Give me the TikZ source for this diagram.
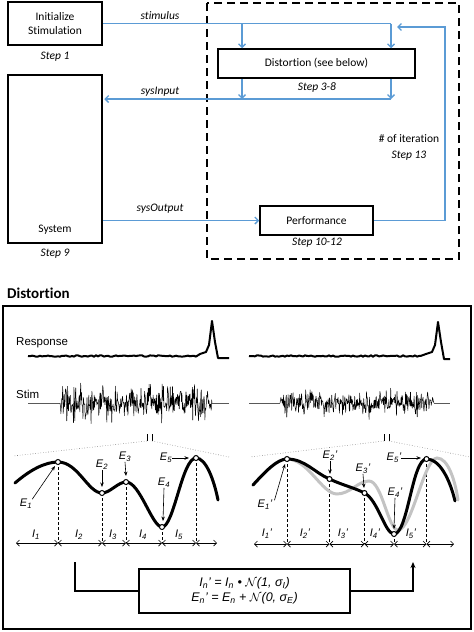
\documentclass[tikz,border=0pt]{standalone}
\usepackage{fontspec}
\setmainfont{Liberation Sans}
\newfontfamily\calfnt[Ligatures={NoCommon}]{Carlito}
\usetikzlibrary{arrows.meta}
\definecolor{obl}{RGB}{91,155,213}
\definecolor{gcurve}{RGB}{195,195,195}
\begin{document}
\begin{tikzpicture}[x=1pt,y=-1pt,
  box/.style={draw,line width=1.5pt,inner sep=0pt,align=center,font=\calfnt\fontsize{11.5}{13.5}\selectfont},
  ctext/.style={font=\calfnt\fontsize{11.5}{13.5}\selectfont, align=center, inner sep=0pt},
  stepl/.style={font=\calfnt\itshape\fontsize{11.5}{13.5}\selectfont, inner sep=0pt},
  bl/.style={draw=obl,line width=1.3pt},
  bla/.style={bl,-{Straight Barb[length=3.5pt,width=7pt]}},
  lab/.style={font=\fontsize{11}{13}\selectfont\itshape, inner sep=0pt},
  txt/.style={font=\fontsize{11.5}{13}\selectfont, inner sep=0pt},
  dbl/.style={line width=0.7pt,{Straight Barb[length=3pt,width=6pt]}-{Straight Barb[length=3pt,width=6pt]}},
  earr/.style={line width=0.6pt,-{Stealth[length=4.5pt,width=3.5pt]}},
  pt/.style={circle,draw,fill=white,inner sep=0pt,minimum size=5pt,line width=1pt},
  vdash/.style={line width=0.8pt,dash pattern=on 3pt off 2pt},
  zoomline/.style={line width=0.6pt,dotted,gray}
]
\useasboundingbox (0,0) rectangle (474,632);

% ---------------- top flow ----------------
\draw[line width=2.2pt, dash pattern=on 8pt off 5pt] (207,3) rectangle (459,259);

\node[box,minimum width=94pt,minimum height=43pt] (init) at (55,23.5) {Initialize\\Stimulation};
\node[stepl] (s1) at (55,57) {Step 1};
\node[box,minimum width=94pt,minimum height=168pt] (sys) at (55,159) {};
\node[ctext] (systxt) at (55,230) {System};
\node[stepl] (s9) at (55,254) {Step 9};

\node[box,minimum width=197pt,minimum height=29pt] (dist) at (316.5,63.5) {Distortion (see below)};
\node[stepl] (s38) at (317,87) {Step 3-8};
\node[box,minimum width=113pt,minimum height=29pt] (perf) at (316.5,220.5) {Performance};
\node[stepl] (s1012) at (317,243) {Step 10-12};
\node[ctext] (iter) at (409,139) {\# of iteration};
\node[stepl] (s13) at (409,156) {Step 13};

\node[stepl] (lstim) at (160,16) {stimulus};
\node[stepl] (lsysin) at (160,92) {sysInput};
\node[stepl] (lsysout) at (160,209) {sysOutput};

\coordinate (ta) at (242,23.5);
\coordinate (tb) at (391,23.5);
\coordinate (ba) at (242,99);
\coordinate (bb) at (391,99);
\coordinate (ic) at (445,27);
\coordinate (ie) at (397,27);

\draw[bl] (init.east) -- (tb);
\draw[bla] (ta) -- (ta |- dist.north);
\draw[bla] (tb) -- (tb |- dist.north);
\draw[bla] (ta |- dist.south) -- (ba);
\draw[bla] (tb |- dist.south) -- (bb);
\draw[bla,shorten >=1.5pt] (bb) -- (ba) -- (sys.east |- ba);
\draw[bla] (sys.east |- perf) -- (perf.west);
\draw[bla] (perf.east) -| (ic) -- (ie);

% ---------------- distortion panel ----------------
\node[font=\calfnt\bfseries\fontsize{15}{18}\selectfont,anchor=west,inner sep=0pt] (dtitle) at (7,293) {Distortion};
\draw[line width=2.5pt] (3,306) rectangle (471,629);

\node[txt,anchor=west] (resp) at (16,343) {Response};
\node[txt,anchor=west] (stim) at (16,394) {Stim};

% response traces
\pgfmathsetseed{7}
\draw[line width=2pt,line join=round] (28,356) \foreach \k in {1,...,84} { -- ({28+2*\k},{356+0.7*rand}) }
  -- (200,354) -- (206,352) -- (209,345) -- (212,321) -- (215,342) -- (218,358) -- (229,358);
\draw[line width=2pt,line join=round] (249,356) \foreach \k in {1,...,86} { -- ({249+2*\k},{356+0.7*rand}) }
  -- (426,354) -- (432,352) -- (435,345) -- (438,322) -- (441,342) -- (444,359) -- (450,359);

% stim traces
\draw[line width=0.7pt,gray!70!black] (28,403) -- (60,403);
\draw[line width=0.7pt,gray!70!black] (212,403) -- (229,403);
\draw[line width=0.5pt,line join=round] (60,403) \foreach \k in {1,...,337} { -- ({60+0.45*\k},{403+9*(rand+rand+rand)+8*rand*rand*rand}) } -- (212,403);
\draw[line width=0.7pt,gray!70!black] (249,403) -- (280,403);
\draw[line width=0.7pt,gray!70!black] (434,403) -- (450,403);
\draw[line width=0.5pt,line join=round] (280,403) \foreach \k in {1,...,341} { -- ({280+0.45*\k},{403+5.5*(rand+rand+rand)+6*rand*rand*rand}) } -- (434,403);

% zoom indicators
\draw[line width=0.6pt] (147,434) -- (147,441);
\draw[line width=0.6pt] (152,434) -- (152,441);
\draw[zoomline] (147,441) -- (13,456);
\draw[zoomline] (152,441) -- (229,457);
\draw[line width=0.6pt] (384,434) -- (384,441);
\draw[line width=0.6pt] (389,434) -- (389,441);
\draw[zoomline] (384,441) -- (250,457);
\draw[zoomline] (389,441) -- (470,457);

% left curve
\coordinate (rowL) at (0,543);
\coordinate (rowR) at (0,544);
\coordinate (p1) at (58,462);
\coordinate (p2) at (102,493);
\coordinate (p3) at (126,482);
\coordinate (p4) at (162,527);
\coordinate (p5) at (196,458);
\foreach \p in {p1,p2,p3,p4,p5} { \draw[vdash] (\p) -- (\p |- rowL); }
\draw[line width=3pt,line cap=round]
  (15,483) .. controls (30,470) and (45,462) .. (p1)
  .. controls (78,462) and (88,493) .. (p2)
  .. controls (110,493) and (118,482) .. (p3)
  .. controls (140,482) and (152,527) .. (p4)
  .. controls (174,527) and (182,458) .. (p5)
  .. controls (206,458) and (214,480) .. (218,500);
\foreach \p in {p1,p2,p3,p4,p5} { \node[pt] at (\p) {}; }

\coordinate (l0) at (16,543);
\coordinate (l6) at (217,543);
\draw[dbl] (l0) -- (p1 |- rowL);
\draw[dbl] (p1 |- rowL) -- (p2 |- rowL);
\draw[dbl] (p2 |- rowL) -- (p3 |- rowL);
\draw[dbl] (p3 |- rowL) -- (p4 |- rowL);
\draw[dbl] (p4 |- rowL) -- (p5 |- rowL);
\draw[dbl] (p5 |- rowL) -- (l6);

\node[lab] (i1) at (36,535) {I\textsubscript{1}};
\node[lab] (i2) at (79,535) {I\textsubscript{2}};
\node[lab] (i3) at (113,535) {I\textsubscript{3}};
\node[lab] (i4) at (143,535) {I\textsubscript{4}};
\node[lab] (i5) at (179,535) {I\textsubscript{5}};

\node[lab] (e1) at (26,504) {E\textsubscript{1}};
\node[lab] (e2) at (102,465) {E\textsubscript{2}};
\node[lab] (e3) at (125,457) {E\textsubscript{3}};
\node[lab] (e4) at (164,483) {E\textsubscript{4}};
\node[lab] (e5) at (166,458) {E\textsubscript{5}};
\draw[earr] (e1.north east) -- (55,466);
\draw[earr] (e2.south) -- (102,487);
\draw[earr] (e3.south) -- (126,476);
\draw[earr] (e4.south) -- (163,521);
\draw[earr] (e5.east) -- (189,458);

% right curve
\coordinate (q1) at (287,459);
\coordinate (q2) at (329.5,479);
\coordinate (q3) at (364.5,493);
\coordinate (q4) at (394,534);
\coordinate (q5) at (426.5,459);
\foreach \p in {q1,q2,q3,q4,q5} { \draw[vdash,line width=1pt] (\p) -- (\p |- rowR); }
\draw[line width=3pt,gcurve,line cap=round]
  (253,485) .. controls (265,472) and (277,459) .. (287,459)
  .. controls (308,459) and (322,494) .. (337,494)
  .. controls (350,494) and (358,481) .. (369,481)
  .. controls (382,481) and (388,530) .. (398,530)
  .. controls (412,530) and (424,458) .. (437,458)
  .. controls (448,458) and (455,480) .. (458,500);
\draw[line width=3pt,line cap=round]
  (253,485) .. controls (265,472) and (277,459) .. (q1)
  .. controls (305,459) and (315,473) .. (q2)
  .. controls (342,485) and (355,488) .. (q3)
  .. controls (378,500) and (385,534) .. (q4)
  .. controls (408,534) and (412,459) .. (q5)
  .. controls (440,459) and (450,480) .. (455,501);
\foreach \p in {q1,q2,q3,q4,q5} { \node[pt] at (\p) {}; }

\coordinate (r0) at (254,544);
\coordinate (r6) at (454,544);
\draw[dbl] (r0) -- (q1 |- rowR);
\draw[dbl] (q1 |- rowR) -- (q2 |- rowR);
\draw[dbl] (q2 |- rowR) -- (q3 |- rowR);
\draw[dbl] (q3 |- rowR) -- (q4 |- rowR);
\draw[dbl] (q4 |- rowR) -- (q5 |- rowR);
\draw[dbl] (q5 |- rowR) -- (r6);

\node[lab] (j1) at (267,534) {I\textsubscript{1}'};
\node[lab] (j2) at (305,534) {I\textsubscript{2}'};
\node[lab] (j3) at (343,534) {I\textsubscript{3}'};
\node[lab] (j4) at (375,534) {I\textsubscript{4}'};
\node[lab] (j5) at (411,534) {I\textsubscript{5}'};

\node[lab] (f1) at (265,505) {E\textsubscript{1}'};
\node[lab] (f2) at (330,456) {E\textsubscript{2}'};
\node[lab] (f3) at (363,469) {E\textsubscript{3}'};
\node[lab] (f4) at (395,493) {E\textsubscript{4}'};
\node[lab] (f5) at (394,458) {E\textsubscript{5}'};
\draw[earr] ([xshift=2pt]f1.north east) -- (285,464);
\draw[earr] (f2.south) -- (330,474);
\draw[earr] (f3.south) -- (364,488);
\draw[earr] (f4.south) -- (394,529);
\draw[earr] (f5.east) -- (421,458);

% formula box
\node[draw,line width=1.2pt,minimum width=211pt,minimum height=44pt,align=center,
      font=\fontsize{12.5}{15.5}\selectfont\itshape] (form) at (244.5,591)
  {I\textsubscript{n}' = I\textsubscript{n} \textbullet\ $\mathcal{N}$(1, σ\textsubscript{I})\\
   E\textsubscript{n}' = E\textsubscript{n} + $\mathcal{N}$(0, σ\textsubscript{E})};
\coordinate (fa) at (75,562);
\coordinate (fb) at (413,562);
\draw[line width=1.5pt] (fa) |- (form.west);
\draw[line width=1.5pt,-{Stealth[length=6pt,width=5pt]}] (form.east) -| (fb);
\end{tikzpicture}
\end{document}
